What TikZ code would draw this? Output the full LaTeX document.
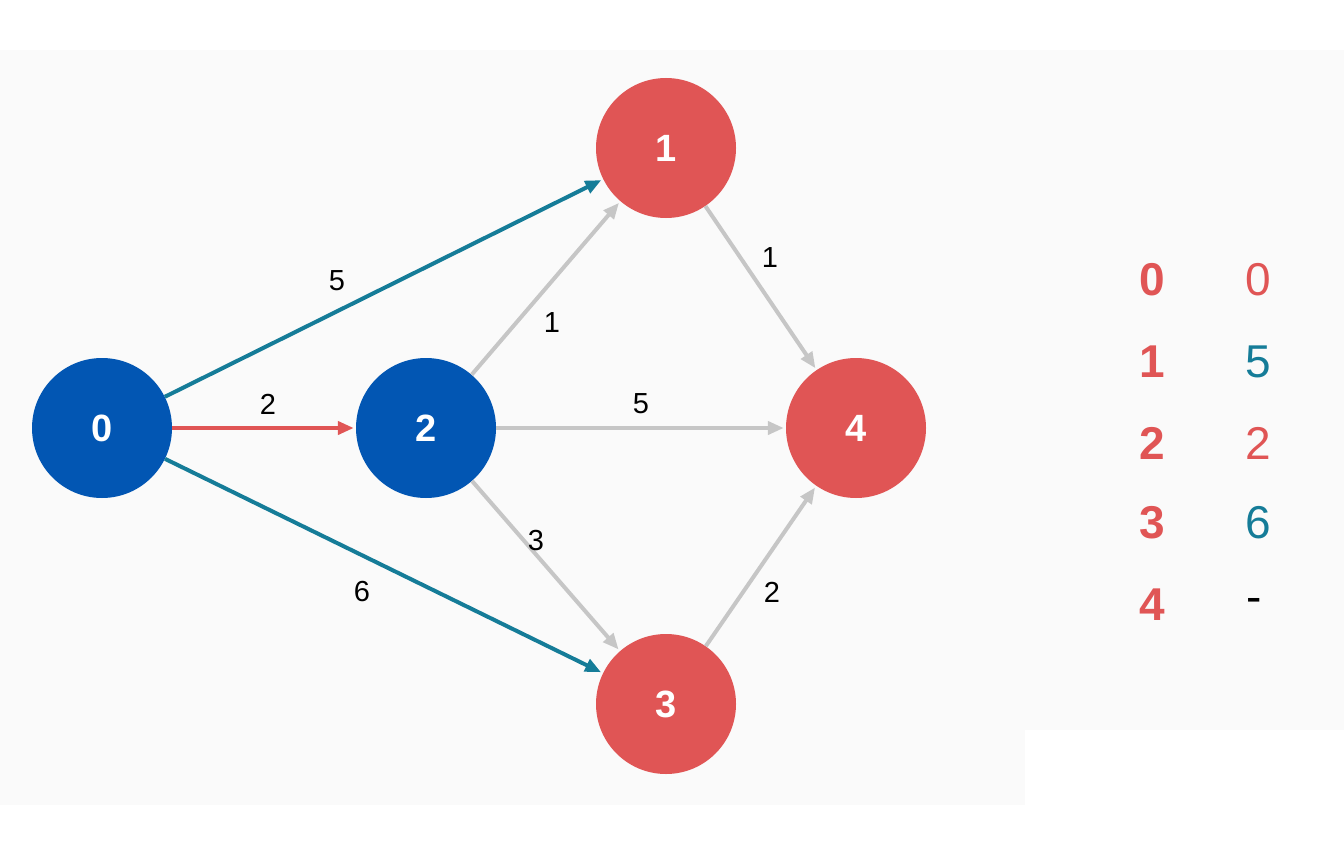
\documentclass[tikz,border=0pt]{standalone}
\usepackage{fontspec}
\setmainfont{Liberation Sans}
\usetikzlibrary{arrows.meta}
\definecolor{nblue}{HTML}{0256B3}
\definecolor{nred}{HTML}{E05555}
\definecolor{teal2}{HTML}{157C98}
\definecolor{egray}{HTML}{C6C6C6}
\begin{document}
\begin{tikzpicture}[x=1pt,y=-1pt,
  nd/.style={circle,minimum size=140pt,inner sep=0pt,text=white,font=\fontsize{38}{38}\selectfont\bfseries},
  bn/.style={nd,fill=nblue},
  rn/.style={nd,fill=nred},
  e/.style={line width=4pt,-{Triangle[length=16pt,width=13pt]},shorten >=2pt},
  lab/.style={font=\fontsize{29}{29}\selectfont,text=black},
  tl/.style={font=\fontsize{46}{46}\selectfont\bfseries,text=nred},
  tr/.style={font=\fontsize{46}{46}\selectfont}]
\useasboundingbox (0,0) rectangle (1344,856);
\fill[white] (0,0) rectangle (1344,856);
\fill[gray!4] (0,50) rectangle (1344,730);
\fill[gray!4] (0,730) rectangle (1025,805);
\node[bn] (n0) at (102,428) {0};
\node[bn] (n2) at (426,428) {2};
\node[rn] (n1) at (666,148) {1};
\node[rn] (n4) at (856,428) {4};
\node[rn] (n3) at (666,704) {3};
\draw[e,teal2] (n0) -- (n1);
\draw[e,nred] (n0) -- (n2);
\draw[e,teal2] (n0) -- (n3);
\draw[e,egray] (n2) -- (n1);
\draw[e,egray] (n2) -- (n4);
\draw[e,egray] (n2) -- (n3);
\draw[e,egray] (n1) -- (n4);
\draw[e,egray] (n3) -- (n4);
\node[lab] (l01) at (337,281) {5};
\node[lab] (l02) at (268,404) {2};
\node[lab] (l03) at (362,592) {6};
\node[lab] (l21) at (552,323) {1};
\node[lab] (l24) at (641,404) {5};
\node[lab] (l23) at (536,541) {3};
\node[lab] (l14) at (770,258) {1};
\node[lab] (l34) at (772,592) {2};
\node[tl] (t0) at (1152,280) {0}; \node[tr,text=nred] (v0) at (1258,280) {0};
\node[tl] (t1) at (1152,362) {1}; \node[tr,text=teal2] (v1) at (1258,362) {5};
\node[tl] (t2) at (1152,443) {2}; \node[tr,text=nred] (v2) at (1258,443) {2};
\node[tl] (t3) at (1152,523) {3}; \node[tr,text=teal2] (v3) at (1258,523) {6};
\node[tl] (t4) at (1152,605) {4}; \node[tr,text=black] (v4) at (1254,605) {-};
\end{tikzpicture}
\end{document}
